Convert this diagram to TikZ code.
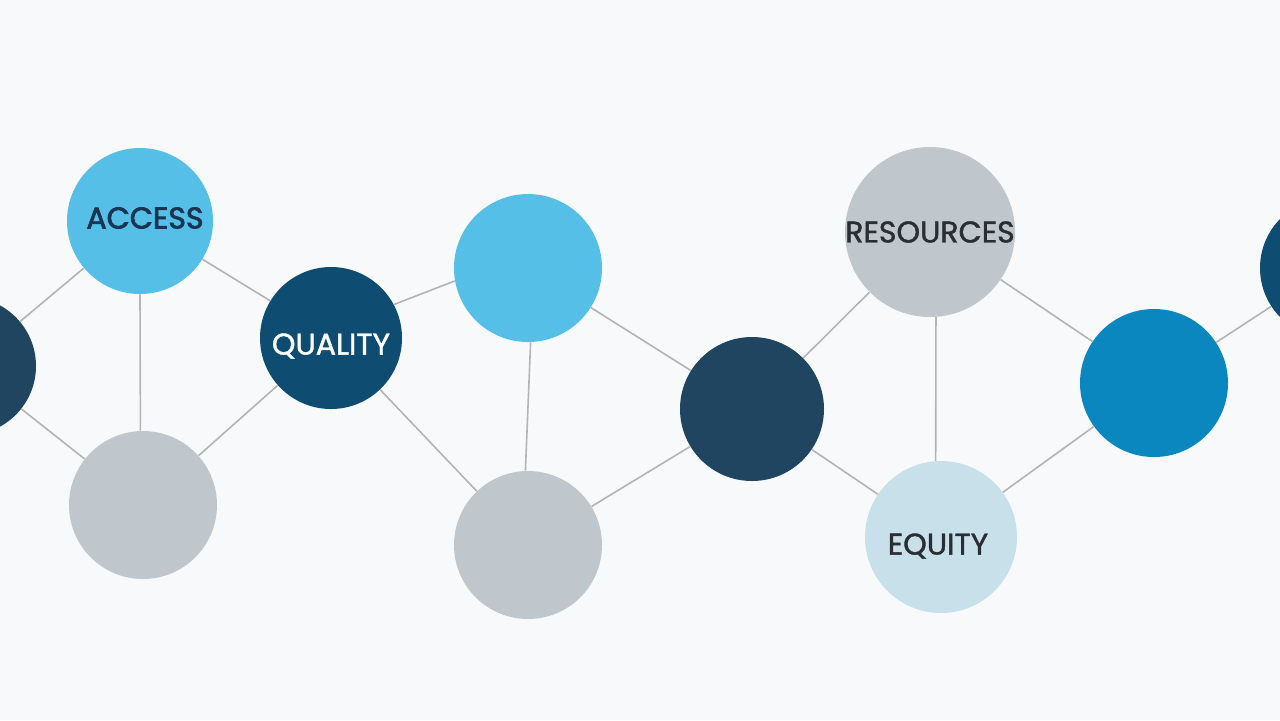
\documentclass[tikz,border=0pt]{standalone}
\usepackage{fontspec}
\setmainfont{Poppins}
\newfontfamily\midfont{Poppins}[FakeBold=1.3]
\newfontfamily\semifont{Poppins}[FakeBold=2.4]
\usepackage{tikz}
\definecolor{bgcol}{HTML}{F8F9FA}
\definecolor{skyblue}{HTML}{56BFE8}
\definecolor{navy}{HTML}{0F4C72}
\definecolor{slate}{HTML}{1F4560}
\definecolor{stone}{HTML}{BFC7CD}
\definecolor{mist}{HTML}{C8E0EA}
\definecolor{ocean}{HTML}{0B87C0}
\definecolor{wire}{HTML}{B4B4B4}
\definecolor{ink}{HTML}{1A3550}
\definecolor{coal}{HTML}{2A2E33}

\begin{document}
\begin{tikzpicture}[x=0.5pt,y=-0.5pt,
    every node/.style={circle, inner sep=0pt, font=\fontsize{15}{15}\selectfont\midfont},
    link/.style={draw=wire, line width=0.8pt}]
    \useasboundingbox (0,0) rectangle (1280,720);
    \clip (0,0) rectangle (1280,720);
    \fill[bgcol] (0,0) rectangle (1280,720);
    % the circles
    \node[fill=slate, minimum size=69pt] (l) at (-33,366) {};
    \node[fill=skyblue, minimum size=73pt,
        label={[text=ink,xshift=2.5pt,yshift=1.5pt,font=\fontsize{15}{15}\selectfont\semifont]center:ACCESS}] (a) at (140,221) {};
    \node[fill=stone, minimum size=74pt] (b) at (143,505) {};
    \node[fill=navy, minimum size=71pt,
        label={[text=white,yshift=-4pt]center:QUALITY}] (q) at (331,338) {};
    \node[fill=skyblue, minimum size=74pt] (c) at (528,268) {};
    \node[fill=stone, minimum size=74pt] (d) at (528,545) {};
    \node[fill=slate, minimum size=72pt] (e) at (752,409) {};
    \node[fill=stone, minimum size=85pt,
        label={[text=coal]center:RESOURCES}] (r) at (930,232) {};
    \node[fill=mist, minimum size=76pt,
        label={[text=coal,xshift=-1.5pt,yshift=-4.5pt]center:EQUITY}] (q2) at (941,537) {};
    \node[fill=ocean, minimum size=74pt] (f) at (1154,383) {};
    \node[fill=navy, minimum size=70pt] (g) at (1330,268) {};
    % the links
    \path[link] (l) -- (a) (l) -- (b) (a.-90) -- (b.92) (a) -- (q) (b) -- (q)
        (q.28) -- (c.190) (q) -- (d) (c.-88) -- (d.92) (c) -- (e) (d) -- (e)
        (e) -- (r) (e) -- (q2) (r.-86) -- (q2.94) (r) -- (f) (q2) -- (f) (f) -- (g);
\end{tikzpicture}
\end{document}
